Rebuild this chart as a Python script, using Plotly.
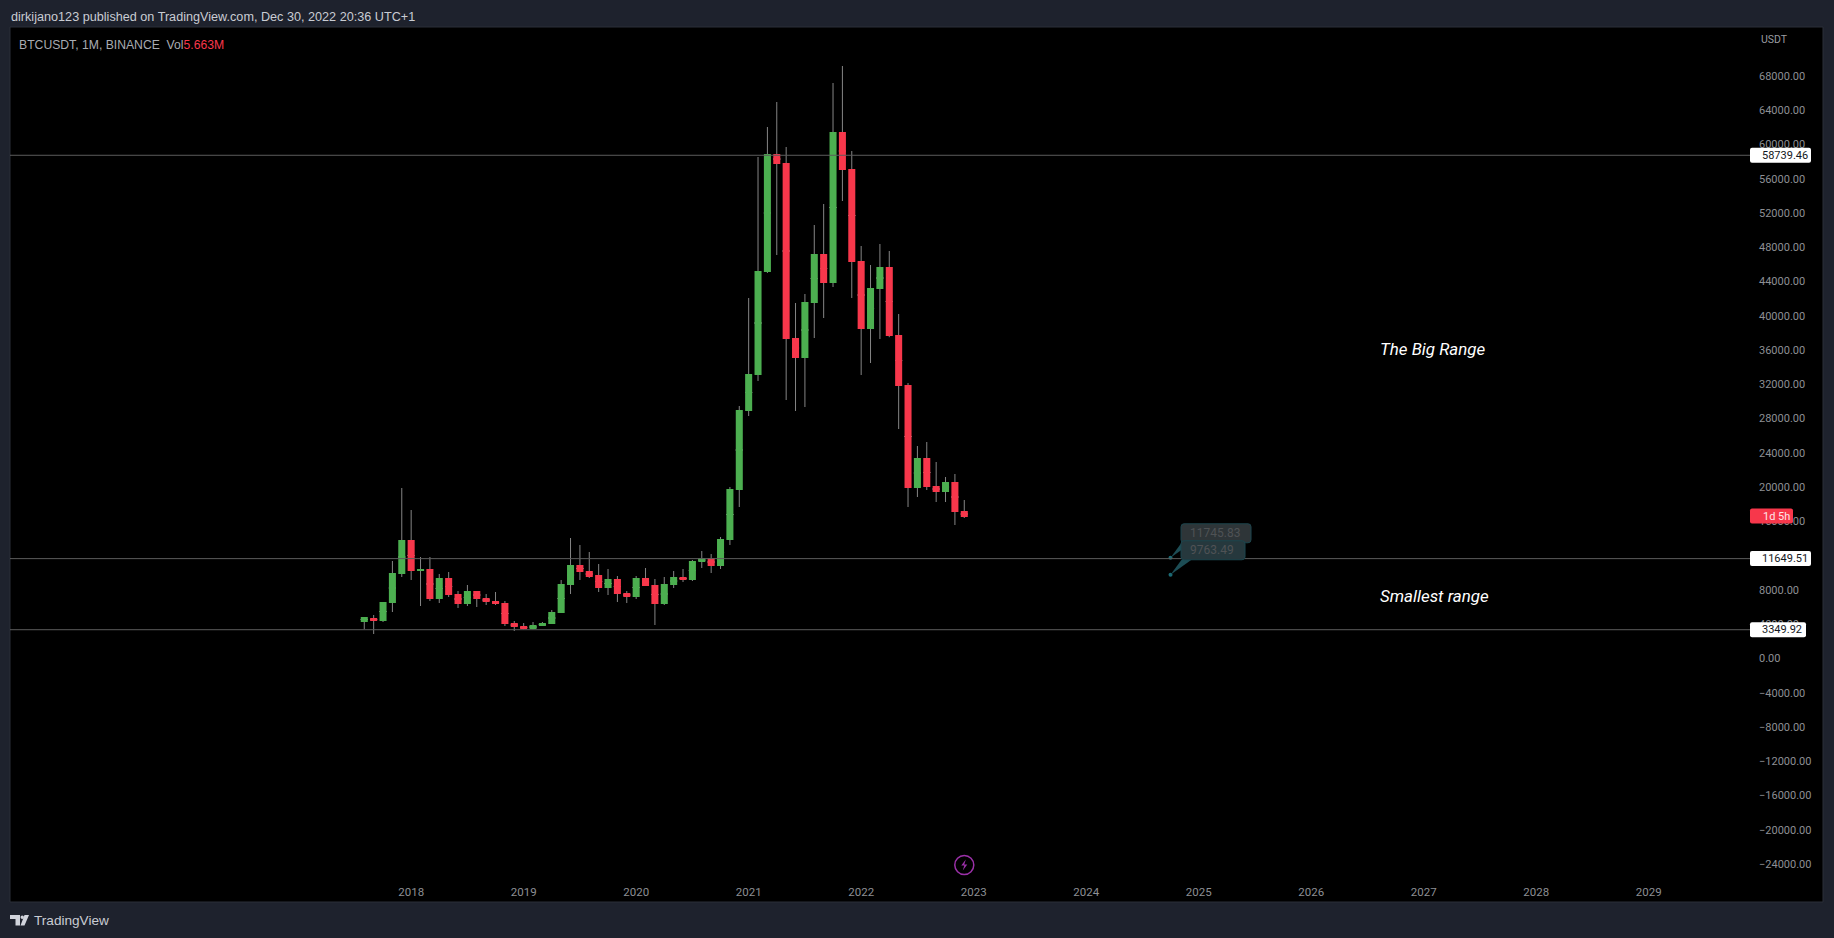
import plotly.graph_objects as go

# BTCUSDT monthly candles, Aug 2017 - Dec 2022
opens = [4249, 4716, 4366, 6468, 9853, 13823, 10204, 10437, 6935, 9387, 7518, 6351, 7868, 7051, 6701, 6468,
         4133, 3782, 3432, 3782, 4016, 5300, 8569, 10904, 10204, 9737, 8219, 9270, 7635, 7168, 9387, 8569,
         6351, 8569, 9503, 9153, 11254, 11721, 10787, 13823, 19660, 28884, 33087, 45112, 58889, 57838, 37407, 35072,
         41493, 47214, 43828, 61457, 57138, 46397, 38457, 43128, 45696, 37757, 31919, 19894, 23396, 20127, 19427, 20594,
         17208]
highs = [4833, 5067, 6584, 11371, 19894, 17326, 11838, 11838, 9853, 10087, 7868, 8569, 7868, 7518, 7752, 6701,
         4366, 4133, 4249, 4249, 5650, 9153, 14056, 13239, 12422, 11021, 10437, 9620, 7868, 9620, 10554, 9270,
         9503, 10204, 10437, 11488, 12539, 12189, 14173, 20011, 29468, 42077, 58539, 62041, 64960, 59706, 41493, 42544,
         50600, 53051, 67178, 69163, 59239, 48148, 45930, 48381, 47564, 40208, 32153, 24797, 25264, 22929, 21178, 21528,
         18493]
lows = [3393, 2848, 4249, 5417, 9503, 9153, 6117, 6701, 6468, 7168, 5884, 6117, 6001, 6234, 6234, 3782,
        3198, 3393, 3393, 3782, 4016, 5300, 7518, 9153, 9387, 7752, 7402, 6584, 6468, 6935, 8452, 3899,
        6234, 8219, 8920, 9036, 10554, 9970, 10437, 13239, 17676, 28300, 32387, 45000, 47097, 30168, 28884, 29351,
        37407, 39742, 43361, 53402, 42077, 33087, 34488, 37290, 37500, 26782, 17676, 18843, 19660, 18259, 18259, 15574,
        16391]
closes = [4833, 4366, 6584, 9970, 13823, 10204, 10437, 6935, 9387, 7402, 6351, 7868, 6935, 6584, 6351, 4016,
          3666, 3432, 3899, 4133, 5417, 8686, 10904, 10087, 9503, 8219, 9270, 7518, 7168, 9387, 8452, 6351,
          8686, 9503, 9153, 11371, 11721, 10787, 13940, 19777, 29001, 33204, 45229, 58889, 57721, 37290, 35072, 41610,
          47214, 43828, 61457, 57021, 46280, 38458, 43244, 45696, 37640, 31802, 19894, 23396, 20011, 19427, 20594, 17092,
          16508]

year_labels = [str(y) for y in range(2018, 2030)]
price_ticks = list(range(68000, -28000, -4000))
price_tick_labels = [f"{p:.2f}".replace("-", "\u2212") for p in price_ticks]

levels = [58739.46, 11649.51, 3349.92]
level_labels = ["58739.46", "11649.51", "3349.92"]
ghost_prices = [11745.83, 9763.49]
ghost_labels = ["11745.83", "9763.49"]

UP = "#4caf50"
DOWN = "#f7374b"
WICK = "#858585"
BG = "#1e222d"
GRID_TEXT = "#8d8f94"
FONT = "Roboto"
SANS = "Liberation Sans"

bars = list(range(len(opens)))
year_bars = [5 + 12 * i for i in range(len(year_labels))]
ghost_bar = 86


# plot area runs from x=10 to 1750 and y=27 to 876 on the page
def px(x):
    return (x - 10) / 1740


def py(y):
    return (876 - y) / 849


def rounded_box(left, bottom, w, h, r):
    # path in pixels, y goes up
    right, top = left + w, bottom + h
    return (f"M{left + r},{bottom} L{right - r},{bottom} Q{right},{bottom} {right},{bottom + r} "
            f"L{right},{top - r} Q{right},{top} {right - r},{top} L{left + r},{top} "
            f"Q{left},{top} {left},{top - r} L{left},{bottom + r} Q{left},{bottom} {left + r},{bottom} Z")


fig = go.Figure()

# plotly puts scatter above candles, so the grey wicks are their own candlestick
# with a flat box that the coloured bodies cover
mids = [(o + c) / 2 for o, c in zip(opens, closes)]
fig.add_trace(go.Candlestick(
    x=bars,
    open=mids,
    close=mids,
    high=highs,
    low=lows,
    increasing=dict(fillcolor=WICK, line=dict(color=WICK, width=1)),
    decreasing=dict(fillcolor=WICK, line=dict(color=WICK, width=1)),
    whiskerwidth=0,
))

fig.add_trace(go.Candlestick(
    x=bars,
    open=opens,
    close=closes,
    high=[max(o, c) for o, c in zip(opens, closes)],
    low=[min(o, c) for o, c in zip(opens, closes)],
    increasing=dict(fillcolor=UP, line=dict(color=UP, width=0)),
    decreasing=dict(fillcolor=DOWN, line=dict(color=DOWN, width=0)),
    whiskerwidth=0,
))

for level in levels:
    fig.add_hline(y=level, line=dict(color="#5c5c5c", width=1))

fig.add_trace(go.Scatter(x=[ghost_bar] * 2, y=ghost_prices, mode="markers",
                         marker=dict(color="#1b6a74", size=4), hoverinfo="skip"))

shapes = [
    # black chart panel, wider than the plot area because of the axes
    dict(type="rect", xref="paper", yref="paper", x0=px(10), x1=px(1823), y0=py(27), y1=py(902),
         fillcolor="#000000", line=dict(color="#2a2e39", width=1), layer="below"),
]

# white price labels on the axis
for level, width in zip(levels, [61, 61, 56]):
    shapes.append(dict(type="path", xref="paper", yref="y", xsizemode="pixel", ysizemode="pixel",
                       xanchor=1, yanchor=level, path=rounded_box(0, -7.5, width, 15, 2),
                       fillcolor="#ffffff", line=dict(width=0)))
# countdown label
shapes.append(dict(type="path", xref="paper", yref="y", xsizemode="pixel", ysizemode="pixel",
                   xanchor=1, yanchor=16625, path=rounded_box(0, -7.5, 43, 15, 2),
                   fillcolor=DOWN, line=dict(width=0)))

# faded price notes with their pointers
for price, width, color in zip(ghost_prices, [70, 64], ["#2e3538", "#26383d"]):
    shapes.append(dict(type="path", xref="x", yref="y", xsizemode="pixel", ysizemode="pixel",
                       xanchor=ghost_bar, yanchor=price, path="M0,0 L11,15 L21,15 Z",
                       fillcolor="#1d4d55", line=dict(width=0)))
    shapes.append(dict(type="path", xref="x", yref="y", xsizemode="pixel", ysizemode="pixel",
                       xanchor=ghost_bar, yanchor=price, path=rounded_box(10.5, 15, width, 19, 3),
                       fillcolor=color, line=dict(color="#1c454d", width=1)))

# lightning badge under the last candle
BADGE = "#9b30a8"
shapes.append(dict(type="circle", xref="x", yref="y", xsizemode="pixel", ysizemode="pixel",
                   xanchor=64, yanchor=-24120, x0=-9.5, x1=9.5, y0=-9.5, y1=9.5,
                   line=dict(color=BADGE, width=1.5), fillcolor="rgba(0,0,0,0)"))
shapes.append(dict(type="path", xref="x", yref="y", xsizemode="pixel", ysizemode="pixel",
                   xanchor=64, yanchor=-24120, path="M1.5,5.5 L-3,-0.5 L0,-0.5 L-1.5,-5.5 L3,0.5 L0,0.5 Z",
                   fillcolor=BADGE, line=dict(width=0)))

# TradingView logo in the footer
logo = (f"M{px(10)},{py(915)} L{px(20)},{py(915)} L{px(20)},{py(925.5)} L{px(15.5)},{py(925.5)} "
        f"L{px(15.5)},{py(919)} L{px(10)},{py(919)} Z "
        f"M{px(24.5)},{py(925.5)} L{px(29)},{py(915)} L{px(24.5)},{py(915)} L{px(20.5)},{py(925.5)} Z")
shapes.append(dict(type="path", xref="paper", yref="paper", path=logo, fillcolor="#d1d4dc", line=dict(width=0)))
shapes.append(dict(type="circle", xref="paper", yref="paper", x0=px(20.5), x1=px(24), y0=py(919), y1=py(915.5),
                   fillcolor="#d1d4dc", line=dict(width=0)))

annotations = [
    dict(text="dirkijano123 published on TradingView.com, Dec 30, 2022 20:36 UTC+1",
         xref="paper", yref="paper", x=px(9), y=py(17.5), xanchor="left", yanchor="middle",
         showarrow=False, font=dict(family=SANS, size=12.65, color="#c9ccd3")),
    dict(text=f'BTCUSDT, 1M, BINANCE  Vol<span style="color:{DOWN}">5.663M</span>',
         xref="paper", yref="paper", x=px(16.5), y=py(45), xanchor="left", yanchor="middle",
         showarrow=False, font=dict(family=SANS, size=12.2, color="#a8abb2")),
    dict(text="USDT", xref="paper", yref="paper", x=1, y=py(39.5), xanchor="left", yanchor="middle", xshift=9,
         showarrow=False, font=dict(family=FONT, size=10.5, color="#9a9ca1")),
    dict(text="1d 5h", xref="paper", yref="y", x=1, y=16625, xanchor="left", yanchor="middle", xshift=11,
         showarrow=False, font=dict(family=FONT, size=11, color="#ffe4e8")),
    dict(text="TradingView", xref="paper", yref="paper", x=px(32), y=py(920.5), xanchor="left", yanchor="middle",
         showarrow=False, font=dict(family=SANS, size=13.6, color="#c9ccd3")),
    dict(text="<i>The Big Range</i>", x=108.15, y=36180, xanchor="left", yanchor="middle",
         showarrow=False, font=dict(family=FONT, size=16.9, color="#ffffff")),
    dict(text="<i>Smallest range</i>", x=108.15, y=7285, xanchor="left", yanchor="middle",
         showarrow=False, font=dict(family=FONT, size=16.9, color="#ffffff")),
]
for level, label in zip(levels, level_labels):
    annotations.append(dict(text=label, xref="paper", yref="y", x=1, y=level, xanchor="left", yanchor="middle",
                            xshift=10, showarrow=False, font=dict(family=FONT, size=11, color="#131722")))
for price, label in zip(ghost_prices, ghost_labels):
    annotations.append(dict(text=label, x=ghost_bar, y=price, xanchor="left", yanchor="middle",
                            xshift=17, yshift=24.5, showarrow=False,
                            font=dict(family=FONT, size=12, color="#4f5255")))

fig.update_layout(
    width=1834,
    height=938,
    margin=dict(l=10, r=84, t=27, b=62),
    paper_bgcolor=BG,
    plot_bgcolor="#000000",
    showlegend=False,
    boxgap=0.25,
    boxgroupgap=0,
    shapes=list(fig.layout.shapes) + shapes,
    annotations=annotations,
    xaxis=dict(range=[-37.79, 147.81], tickvals=year_bars, ticktext=year_labels, showgrid=False, zeroline=False,
               showline=False, ticks="", ticklabelstandoff=7, rangeslider=dict(visible=False),
               tickfont=dict(family=FONT, size=11.5, color=GRID_TEXT), automargin=False),
    yaxis=dict(range=[-25405, 73716], side="right", tickvals=price_ticks, ticktext=price_tick_labels,
               showgrid=False, zeroline=False, showline=False, ticks="", ticklabelstandoff=8,
               tickfont=dict(family=FONT, size=11, color=GRID_TEXT), automargin=False),
)

fig.write_html("out.html", config=dict(displayModeBar=False),
               post_script=f"document.body.style.margin='0';document.body.style.background='{BG}';document.body.style.overflow='hidden';")
